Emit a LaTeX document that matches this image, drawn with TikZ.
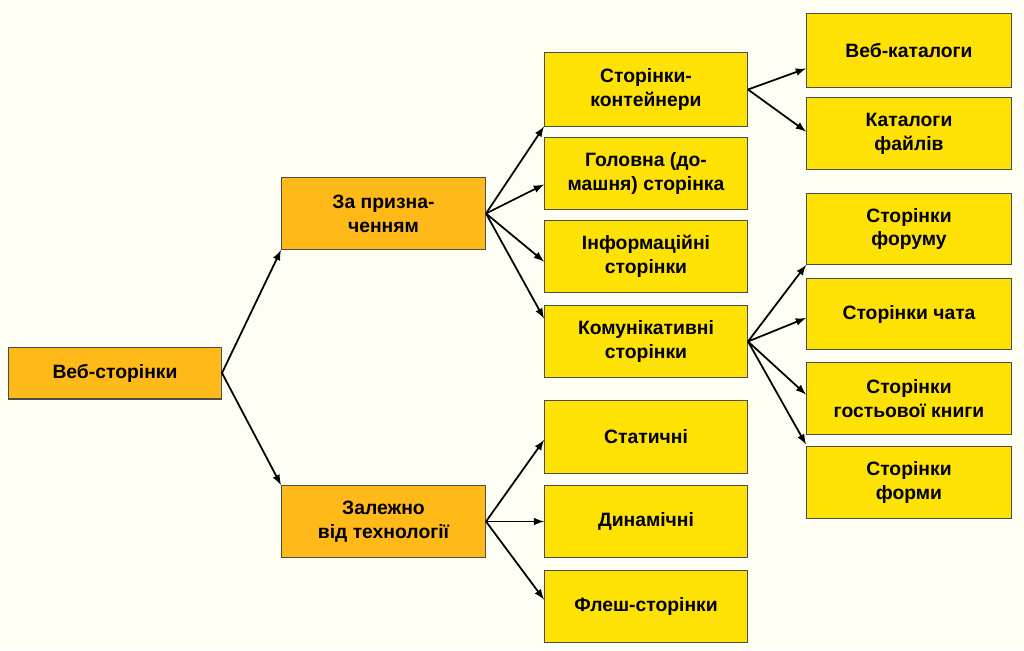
\documentclass[tikz,border=0pt]{standalone}
\usepackage{fontspec}
\setmainfont{Liberation Sans}
\usetikzlibrary{calc}
\begin{document}
\begin{tikzpicture}[x=0.02cm,y=-0.02cm,
 bx/.style={draw=black!70,line width=0.8pt,fill=yellow!85!orange,align=center,font=\bfseries\fontsize{11}{13.5}\selectfont},
 ob/.style={bx,fill=orange!60!yellow!90!white},
 ar/.style={-latex,line width=1pt}]
\fill[white!96!yellow] (0,0) rectangle (1024,650);
\useasboundingbox (0,0) rectangle (1024,650);
\newcommand{\bxx}[7]{\node[#1,minimum width=#4*0.02cm-0.8pt,minimum height=#5*0.02cm-0.8pt,inner sep=1pt] (#2) at (#3) {#7};}
\bxx{ob}{root}{115,373}{214}{53}{}{Веб-сторінки}
\bxx{ob}{zp}{383.5,213.5}{205}{73}{}{За призна-\\ченням}
\bxx{ob}{zt}{383.5,521.5}{205}{73}{}{Залежно\\від технології}
\bxx{bx}{a1}{646,89.5}{204}{75}{}{Сторінки-\\контейнери}
\bxx{bx}{a2}{646,173.5}{204}{73}{}{Головна (до-\\машня) сторінка}
\bxx{bx}{a3}{646,256.5}{204}{73}{}{Інформаційні\\сторінки}
\bxx{bx}{a4}{646,341.5}{204}{73}{}{Комунікативні\\сторінки}
\bxx{bx}{a5}{646,437}{204}{74}{}{Статичні}
\bxx{bx}{a6}{646,521.5}{204}{73}{}{Динамічні}
\bxx{bx}{a7}{646,606.5}{204}{73}{}{Флеш-сторінки}
\bxx{bx}{b1}{909,50.5}{206}{75}{}{Веб-каталоги}
\bxx{bx}{b2}{909,133.5}{206}{73}{}{Каталоги\\файлів}
\bxx{bx}{b3}{909,229}{206}{72}{}{Сторінки\\форуму}
\bxx{bx}{b4}{909,314}{206}{72}{}{Сторінки чата}
\bxx{bx}{b5}{909,398.5}{206}{73}{}{Сторінки\\гостьової книги}
\bxx{bx}{b6}{909,482.5}{206}{73}{}{Сторінки\\форми}
\draw[ar] (root.east) -- (zp.south west);
\draw[ar] (root.east) -- (zt.north west);
\foreach \t/\y in {a1/37,a2/11,a3/5,a4/-23}{\draw[ar] (zp.east) -- ($(\t.west)+(0,\y)$);}
\foreach \t/\y in {a5/3,a6/0,a7/-7}{\draw[ar] (zt.east) -- ($(\t.west)+(0,\y)$);}
\foreach \t/\y in {b1/18,b2/-2}{\draw[ar] (a1.east) -- ($(\t.west)+(0,\y)$);}
\foreach \t/\y in {b3/36,b4/4,b5/-4,b6/-38}{\draw[ar] (a4.east) -- ($(\t.west)+(0,\y)$);}
\end{tikzpicture}
\end{document}
